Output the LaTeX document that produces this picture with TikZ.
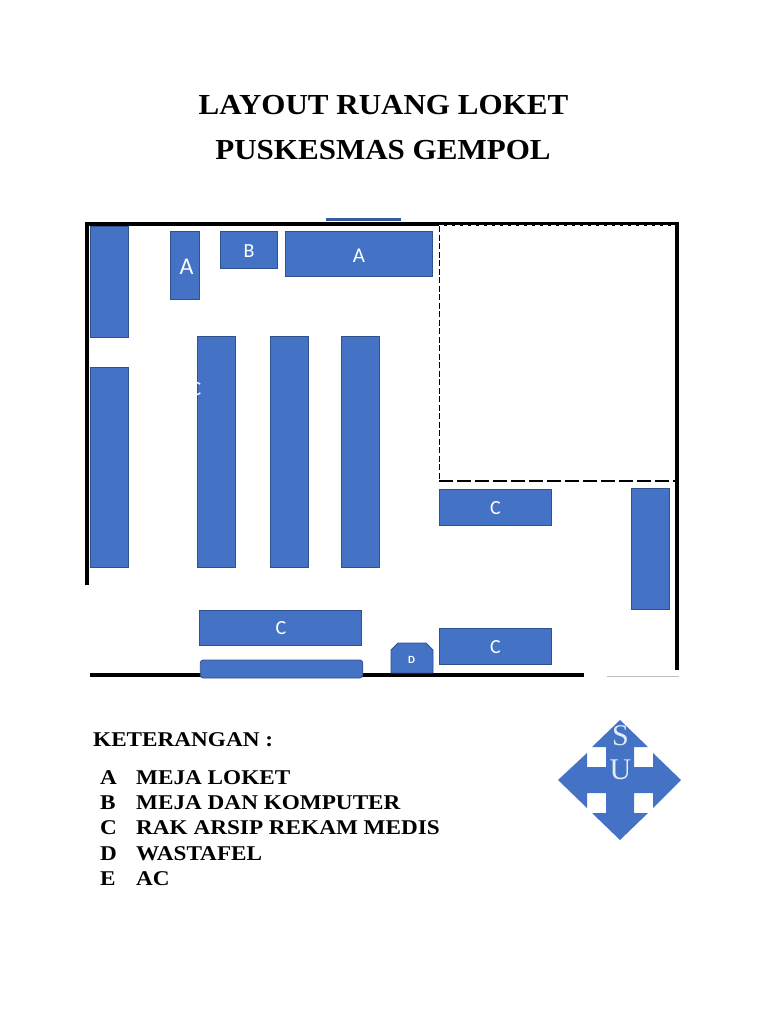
\documentclass[tikz,border=0pt]{standalone}
\usepackage{fontspec}
\setmainfont{Liberation Serif}
\newfontfamily\labelfont{Carlito}
\newfontfamily\titlefont[FakeStretch=1.07]{Liberation Serif Bold}
\newfontfamily\legendfont[FakeStretch=1.105]{Liberation Serif Bold}
\definecolor{fillblue}{HTML}{4472C4}
\definecolor{edgeblue}{HTML}{2F528F}
\tikzset{
  bluebox/.style={draw=edgeblue,line width=0.8pt,fill=fillblue,inner sep=0pt,text=white,font=\labelfont\fontsize{20}{22}\selectfont},
  boxlabel/.style={text=white,inner sep=0pt},
  wall/.style={line width=4pt,black,line cap=butt},
  titletext/.style={font=\titlefont\fontsize{29}{32}\selectfont,inner sep=0pt},
  legendtext/.style={font=\legendfont\fontsize{21}{24}\selectfont,inner sep=0pt,anchor=base west},
}
\newcommand{\bx}[6][]{\node[bluebox,minimum width=#4pt,minimum height=#5pt,#1] (#2) at (#3) {#6};}
\begin{document}
\begin{tikzpicture}[x=1pt,y=-1pt]
\useasboundingbox (0,0) rectangle (768,1024);
\node[titletext] (t1) at (383.5,105) {LAYOUT RUANG LOKET};
\node[titletext] (t2) at (383,150) {PUSKESMAS GEMPOL};
% walls
\draw[wall] (84.5,224.5) -- (679,224.5);
\draw[wall] (86.5,224) -- (86.5,585);
\draw[wall] (677,224) -- (677,670);
\draw[wall] (90,674.5) -- (584,674.5);
\draw[line width=1pt,black!25] (607,676.8) -- (679,676.8);
% dashed area
\draw[line width=1pt,dash pattern=on 6pt off 2.5pt] (439,226) -- (439,480);
\draw[line width=2pt,dash pattern=on 14pt off 4pt] (439,480.5) -- (675,480.5);
\draw[line width=1pt,white,dash pattern=on 5pt off 3pt] (439,226) -- (675,226);
% boxes
\fill[edgeblue!70!fillblue] (326,218) rectangle (401,221);
\bx{l1}{109.5,282}{38.2}{111.2}{}
\bx{l2}{109.5,467.5}{38.2}{200.2}{}
\bx{a1}{184.5,265.5}{29.2}{68.2}{}
\node[boxlabel,font=\labelfont\fontsize{24}{26}\selectfont] (a1t) at (186.5,267) {A};
\bx{b1}{249,250}{57.2}{37.2}{}
\node[boxlabel,font=\labelfont\fontsize{20}{22}\selectfont] (b1t) at (249,251) {B};
\bx{a2}{359,254}{147.2}{45.2}{}
\node[boxlabel,font=\labelfont\fontsize{21}{23}\selectfont] (a2t) at (359,255.5) {A};
\bx{s1}{216.5,452}{38.2}{231.2}{}
\bx{s2}{289,452}{38.2}{231.2}{}
\bx{s3}{360.5,452}{38.2}{231.2}{}
\node[boxlabel,font=\labelfont\fontsize{20}{22}\selectfont] (cs) at (196,389) {C};
\bx{c1}{495.5,507.5}{112.2}{36.2}{}
\node[boxlabel,font=\labelfont\fontsize{20}{22}\selectfont] (c1t) at (495.5,508.5) {C};
\bx{r1}{650.5,549}{38.2}{121.2}{}
\bx{c2}{280.5,628}{162.2}{35.2}{}
\node[boxlabel,font=\labelfont\fontsize{20}{22}\selectfont] (c2t) at (281,628.5) {C};
\bx{c3}{495.5,646.5}{112.2}{36.2}{}
\node[boxlabel,font=\labelfont\fontsize{20}{22}\selectfont] (c3t) at (495.5,647.5) {C};
\node[draw=edgeblue,line width=0.8pt,fill=fillblue,rounded corners=3pt,inner sep=0pt,minimum width=162.5pt,minimum height=18pt] (sink) at (281.5,669) {};
\draw[draw=edgeblue,line width=0.8pt,fill=fillblue] (391,673) -- (391,650) -- (398,643) -- (426,643) -- (433,650) -- (433,673) -- cycle;
\node[boxlabel,font=\labelfont\bfseries\fontsize{11}{13}\selectfont] (d) at (411.5,660) {D};
% legend
\node[legendtext] (k) at (93,746) {KETERANGAN :};
\foreach \n/\y/\l/\t in {la/784/A/MEJA LOKET,lb/809/B/MEJA DAN KOMPUTER,lc/834.5/C/RAK ARSIP REKAM MEDIS,ld/860/D/WASTAFEL,le/885/E/AC}{
  \node[legendtext] (\n) at (100,\y) {\l};
  \node[legendtext] (\n t) at (136,\y) {\t};
}
% compass
\fill[fillblue] (620,720) -- (648,747) -- (634,747) -- (634,767) -- (653,767) -- (653,753) -- (681,780) -- (653,808) -- (653,793) -- (634,793) -- (634,813) -- (648,813) -- (620,840) -- (592,813) -- (606,813) -- (606,793) -- (587,793) -- (587,808) -- (558,780) -- (587,753) -- (587,767) -- (606,767) -- (606,747) -- (592,747) -- cycle;
\node[text=white!85!fillblue,font=\fontsize{30}{32}\selectfont,inner sep=0pt] (ns) at (620.5,736) {S};
\node[text=white!85!fillblue,font=\fontsize{30}{32}\selectfont,inner sep=0pt] (nu) at (620.5,770) {U};
\end{tikzpicture}
\end{document}
